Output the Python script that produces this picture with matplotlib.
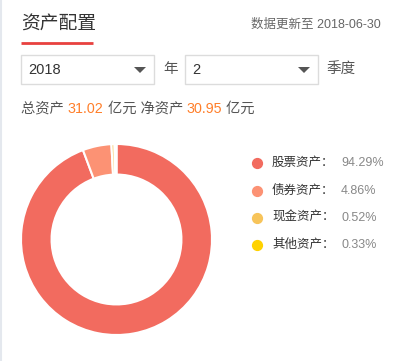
import matplotlib
matplotlib.use("Agg")
import matplotlib.pyplot as plt
from matplotlib.patches import Rectangle, Polygon

# latin glyphs in an Arial-like face, CJK falls back to Noto
plt.rcParams['font.family'] = ['Liberation Sans', 'Noto Sans CJK SC']

# data
labels = ['股票资产', '债券资产', '现金资产', '其他资产']
shares = [94.29, 4.86, 0.52, 0.33]
colors = ['#f26b5f', '#fc9274', '#f7c45a', '#ffd200']
year = '2018'
quarter = '2'
total_assets = '31.02'
net_assets = '30.95'
update_date = '2018-06-30'

W, H = 408, 361
fig = plt.figure(figsize=(W / 100, H / 100), dpi=100)

# overlay axes in pixel coordinates
bg = fig.add_axes([0, 0, 1, 1])
bg.set_xlim(0, W)
bg.set_ylim(H, 0)
bg.axis('off')

bg.plot([0.8, 0.8], [0, H], color='#e4e8ee', lw=1.5)

# header
bg.text(21, 25, '资产配置', fontsize=13.5, color='#333333', va='center', ha='left')
bg.plot([21, 93], [42.5, 42.5], color='#e8413f', lw=2, solid_capstyle='butt')
bg.text(381, 25, '数据更新至 ' + update_date, fontsize=9, color='#666666',
        va='center', ha='right')

# select boxes
for x0, val in [(21, year), (185, quarter)]:
    bg.add_patch(Rectangle((x0, 54.5), 133, 29, fill=False, ec='#dcdcdc', lw=1))
    bg.text(x0 + 7, 69.5, val, fontsize=10.5, color='#333333', va='center', ha='left')
    tx = x0 + 119
    bg.add_patch(Polygon([[tx - 6, 67], [tx + 6, 67], [tx, 73]], closed=True,
                         fc='#555555', ec='none'))
bg.text(163, 69.5, '年', fontsize=10.5, color='#555555', va='center', ha='left')
bg.text(326, 69.5, '季度', fontsize=10.5, color='#555555', va='center', ha='left')

# totals line
y_t = 109
parts = [('总资产 ', '#555555'), (total_assets, '#ff7f2a'), (' 亿元 净资产 ', '#555555'),
         (net_assets, '#ff7f2a'), (' 亿元', '#555555')]
fig.canvas.draw()
renderer = fig.canvas.get_renderer()
x = 21
for s, c in parts:
    t = bg.text(x, y_t, s, fontsize=10.3, color=c, va='center', ha='left')
    bb = t.get_window_extent(renderer=renderer)
    x += bb.width

# donut
cx, cy, r = 116.5, 239.5, 95.5
pax = fig.add_axes([(cx - r) / W, (H - cy - r) / H, 2 * r / W, 2 * r / H])
pax.pie(shares, colors=colors, startangle=90, counterclock=False, radius=1,
        wedgeprops=dict(width=0.32, edgecolor='white', linewidth=1.5))
pax.set_xlim(-1, 1)
pax.set_ylim(-1, 1)
pax.axis('off')

# legend
ys = [163, 191, 218, 245]
for lab, v, c, yy in zip(labels, shares, colors, ys):
    bg.scatter([257], [yy], s=50, color=c, zorder=3)
    bg.text(272, yy, lab + '：', fontsize=9, color='#333333', va='center', ha='left')
    bg.text(341, yy, '%.2f%%' % v, fontsize=9, color='#888888', va='center', ha='left')

fig.savefig('out.png', dpi=100, facecolor='white')
